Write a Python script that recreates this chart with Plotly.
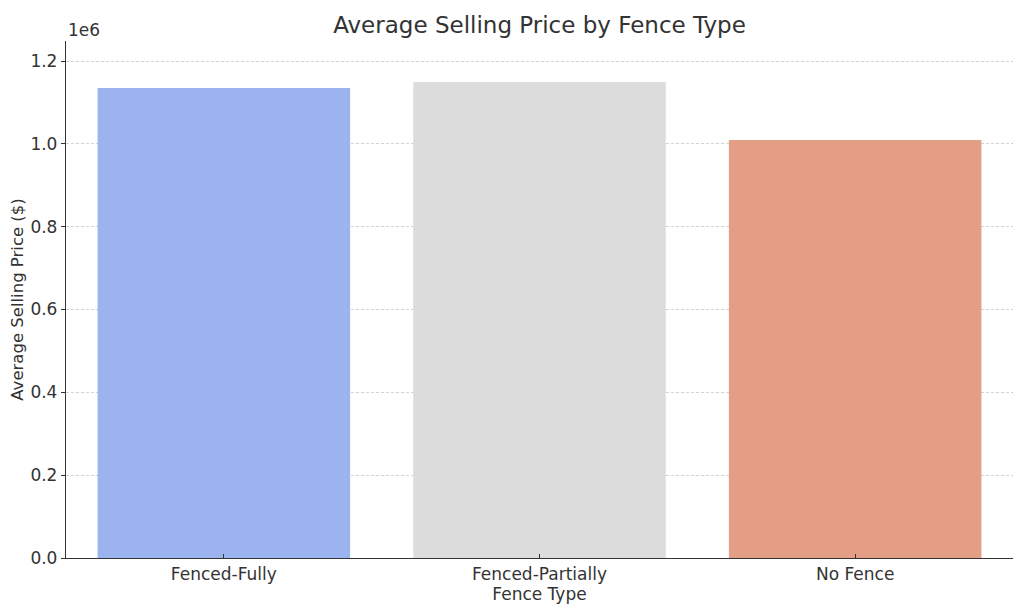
import plotly.graph_objects as go

categories = ["Fenced-Fully", "Fenced-Partially", "No Fence"]
avg_price = [1134800, 1149300, 1009200]
bar_colors = ["#9bb3ee", "#dcdcdc", "#e49e86"]
y_tick_vals = [0, 200000, 400000, 600000, 800000, 1000000, 1200000]
y_tick_text = ["0.0", "0.2", "0.4", "0.6", "0.8", "1.0", "1.2"]

# page body has an 8px margin; figure sized to fit the window
OFF = 8
W, H = 1024 - OFF, 613 - OFF
ml, mr, mt, mb = 66 - OFF, 11, 41 - OFF, 55
pw, ph = W - ml - mr, H - mt - mb

def px_x(x):
    return (x - OFF - ml) / pw

def px_y(y):
    return (H - mb - (y - OFF)) / ph

font = "DejaVu Sans"
txt = "#333333"

fig = go.Figure(go.Bar(
    x=categories, y=avg_price, marker_color=bar_colors,
    marker_line_width=0, width=0.8,
))

fig.update_layout(
    width=W, height=H,
    margin=dict(l=ml, r=mr, t=mt, b=mb, pad=0),
    paper_bgcolor="white", plot_bgcolor="white",
    font=dict(family=font, color=txt, size=17),
    showlegend=False,
    title=dict(text="Average Selling Price by Fence Type", x=px_x(539.5), xref="paper",
               xanchor="center", y=1 - (25 - OFF) / H, yanchor="middle",
               font=dict(size=23, color=txt, family=font)),
    xaxis=dict(
        range=[-0.5, 2.5], showline=True, linecolor="#333333", linewidth=1.3,
        ticks="inside", ticklen=4, tickcolor="#333333", showgrid=False,
        tickfont=dict(size=17, color=txt), automargin=False,
        title=dict(text="Fence Type", standoff=2, font=dict(size=17, color=txt)),
    ),
    yaxis=dict(
        range=[0, 1248300], showline=True, linecolor="#333333", linewidth=1.3,
        ticks="outside", ticklen=4, tickcolor="#333333",
        tickvals=y_tick_vals, ticktext=y_tick_text,
        showgrid=True, gridcolor="#d3d3d3", griddash="3px,2px", gridwidth=0.8,
        zeroline=False, tickfont=dict(size=17, color=txt), automargin=False,
        title=dict(text="Average Selling Price ($)", standoff=8, font=dict(size=16.5, color=txt)),
    ),
    annotations=[dict(text="1e6", xref="paper", yref="paper", x=px_x(66), y=px_y(30),
                      xanchor="left", yanchor="middle", showarrow=False,
                      font=dict(size=17, color=txt, family=font))],
)

fig.write_html("out.html")
